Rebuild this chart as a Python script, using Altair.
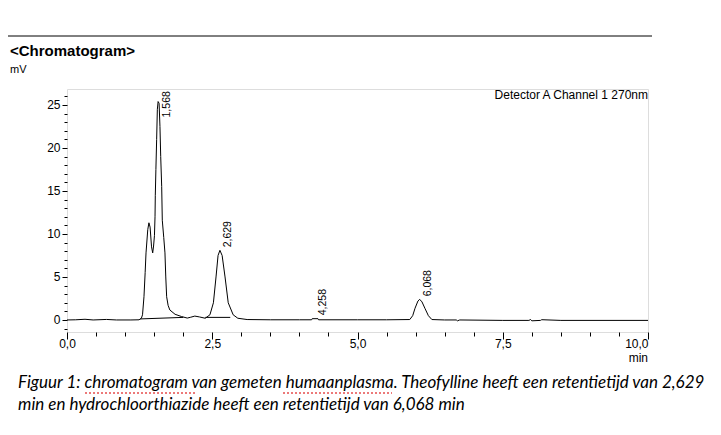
import altair as alt
import pandas as pd

# Chromatogram trace (retention time in min, signal in mV)
time_min = [0.00, 0.15, 0.31, 0.45, 0.68, 0.85, 1.10, 1.24, 1.28, 1.30, 1.325, 1.345,
            1.36, 1.39, 1.41, 1.43, 1.455, 1.475, 1.49, 1.505, 1.515, 1.52, 1.53, 1.543,
            1.555, 1.568, 1.585, 1.60, 1.613, 1.63, 1.64, 1.665, 1.686, 1.70, 1.715, 1.74,
            1.77, 1.86, 1.97, 2.07, 2.13, 2.20, 2.28, 2.38, 2.46, 2.52, 2.565, 2.60, 2.632,
            2.67, 2.72, 2.775, 2.86, 2.94, 3.10, 3.50, 4.00, 4.21, 4.22, 4.32, 4.33, 5.00,
            5.50, 5.90, 5.95, 5.99, 6.04, 6.07, 6.11, 6.16, 6.22, 6.28, 6.50, 6.70, 6.72,
            6.76, 7.50, 7.95, 7.98, 8.00, 8.15, 8.17, 8.50, 10.00]
signal_mv = [0.00, 0.02, 0.08, 0.00, 0.06, 0.00, 0.00, 0.02, 0.20, 0.60, 2.70, 5.50,
             7.80, 10.50, 11.30, 10.80, 8.50, 7.80, 8.60, 9.80, 12.00, 14.50, 17.50, 21.00,
             24.50, 25.40, 25.20, 22.50, 19.00, 15.50, 11.60, 9.60, 7.80, 5.00, 2.70, 1.70,
             1.16, 0.66, 0.40, 0.22, 0.32, 0.45, 0.35, 0.20, 0.60, 2.00, 5.00, 7.50, 8.10,
             7.50, 5.00, 2.00, 0.60, 0.20, 0.05, 0.02, 0.02, 0.02, 0.15, 0.15, 0.02, 0.02,
             0.02, 0.05, 0.50, 1.36, 2.20, 2.40, 2.10, 1.36, 0.50, 0.05, 0.00, 0.00, -0.10,
             0.00, -0.05, -0.05, 0.05, -0.10, -0.05, 0.03, -0.05, -0.05]

# Integration baselines drawn under the peaks
base_seg = ["a", "a", "b", "b"]
base_t = [1.26, 2.00, 2.38, 2.81]
base_v = [0.12, 0.30, 0.30, 0.30]

# Peak labels
peak_t = [1.568, 2.629, 4.258, 6.068]
peak_h = [25.4, 8.1, 0.2, 2.4]
peak_text = ["1,568", "2,629", "4,258", "6,068"]
label_cap = 23.2

y_ticks = list(range(-1, 27))
x_ticks = [i * 0.5 for i in range(21)]

caption_lines = [
    "Figuur 1: chromatogram van gemeten humaanplasma. Theofylline heeft een retentietijd van 2,629",
    "min en hydrochloorthiazide heeft een retentietijd van 6,068 min",
]

FONT = "Liberation Sans"
W, H = 581, 243

trace = pd.DataFrame({"t": time_min, "v": signal_mv})
base = pd.DataFrame({"seg": base_seg, "t": base_t, "v": base_v})
peaks = pd.DataFrame({"t": peak_t, "h": peak_h, "label": peak_text})
peaks["ly"] = [min(h, label_cap) for h in peak_h]

xs = alt.Scale(domain=[0, 10], nice=False, zero=False)
ys = alt.Scale(domain=[-1.4, 26.86], nice=False, zero=False)

x_axis = alt.Axis(
    values=x_ticks, title=None, domain=False, grid=False,
    tickSize={"condition": {"test": "datum.value % 2.5 === 0", "value": 7}, "value": 4},
    labelExpr="datum.value % 2.5 === 0 ? replace(format(datum.value, '.1f'), '.', ',') : ''",
    labelAlign={"condition": {"test": "datum.value === 10", "value": "right"}, "value": "center"},
    labelOverlap=False, labelFlush=False, labelPadding=-1, labelBound=False,
    labelFont=FONT, labelFontSize=12, labelColor="#000", tickColor="#000",
)
y_axis = alt.Axis(
    values=y_ticks, title=None, domain=False, grid=False,
    tickSize={"condition": {"test": "datum.value % 5 === 0", "value": 5}, "value": 3},
    labelExpr="datum.value % 5 === 0 ? datum.label : ''",
    labelOverlap=False, labelPadding=2, format="d", labelBound=False,
    labelFont=FONT, labelFontSize=12, labelColor="#000", tickColor="#000",
)

X = lambda f: alt.X(f, type="quantitative", scale=xs, axis=x_axis)
Y = lambda f: alt.Y(f, type="quantitative", scale=ys, axis=y_axis)

line = alt.Chart(trace).mark_line(color="black", strokeWidth=1).encode(
    x=X("t"), y=Y("v"),
)

baseline = alt.Chart(base).mark_line(color="black", strokeWidth=1).encode(
    x=X("t"), y=Y("v"), detail="seg:N",
)

labels = alt.Chart(peaks).mark_text(
    angle=270, align="left", baseline="middle", font=FONT, fontSize=10.5,
    color="#000", xOffset=8.5, yOffset=-3,
).encode(
    x=X("t"), y=Y("ly"), text="label:N",
)

def txt(s, x, y, **kw):
    return alt.Chart(pd.DataFrame({"s": [s]})).mark_text(**kw).encode(
        x=alt.value(x), y=alt.value(y), text="s:N"
    )

detector = txt("Detector A Channel 1 270nm", W, 1, align="right", baseline="top",
               font=FONT, fontSize=12, color="#000")
title = txt("<Chromatogram>", -57, -38, align="left", baseline="middle",
            font=FONT, fontSize=15, fontWeight="bold", color="#000")
mv = txt("mV", -57, -19, align="left", baseline="middle", font=FONT, fontSize=11, color="#000")
minlab = txt("min", W, 269, align="right", baseline="middle", font=FONT, fontSize=12, color="#000")
cap1 = txt(caption_lines[0], -49, 294, align="left", baseline="middle",
           font="Lato", fontSize=17, fontStyle="italic", color="#000")
cap2 = txt(caption_lines[1], -49, 316, align="left", baseline="middle",
           font="Lato", fontSize=17, fontStyle="italic", color="#000")

def squiggle(x1, x2, y):
    return alt.Chart(pd.DataFrame({"a": [0]})).mark_rule(
        color="#e02020", strokeWidth=1.5, strokeDash=[2, 2], opacity=0.8
    ).encode(x=alt.value(x1), x2=alt.value(x2), y=alt.value(y))

sq1 = squiggle(18, 129, 304)
sq2 = squiggle(216, 325, 304)

top_rule = alt.Chart(pd.DataFrame({"a": [0]})).mark_rule(color="black", strokeWidth=1).encode(
    x=alt.value(-59), x2=alt.value(585), y=alt.value(-53)
)

chart = alt.layer(
    line, baseline, labels, detector, title, mv, minlab, cap1, cap2, sq1, sq2, top_rule
).properties(
    width=W, height=H,
    autosize=alt.AutoSizeParams(type="none"),
    padding={"left": 59, "top": 81, "right": 65, "bottom": 88},
).configure_view(stroke="black", strokeWidth=1).configure(background="white")

chart.save("out.html", embed_options={"renderer": "svg", "actions": False})
